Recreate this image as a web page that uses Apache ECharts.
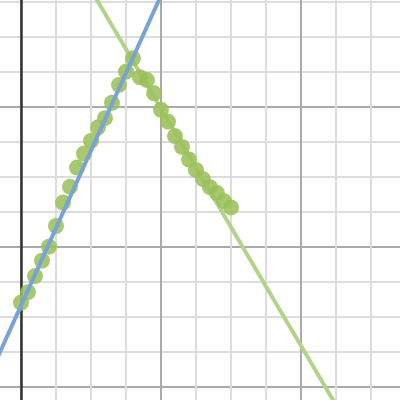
<!DOCTYPE html>
<html>
<head>
<meta charset="utf-8">
<script src="https://cdn.jsdelivr.net/npm/echarts@6/dist/echarts.min.js"></script>
<style>
html, body { margin: 0; padding: 0; background: #fff; }
#chart { width: 400px; height: 400px; }
</style>
</head>
<body>
<div id="chart"></div>
<script>
// sampled points
var dotX = [0, 0.2, 0.4, 0.6, 0.8, 1.0, 1.2, 1.4, 1.6, 1.8, 2.0, 2.2, 2.4, 2.6, 2.8, 3.0,
            3.2, 3.4, 3.6, 3.8, 4.0, 4.2, 4.4, 4.6, 4.8, 5.0, 5.2, 5.4, 5.6, 5.8, 6.0];
var dotY = [6.41, 6.71, 7.17, 7.61, 8.01, 8.60, 9.27, 9.72, 10.27, 10.67, 11.03, 11.42, 11.68, 12.12, 12.63, 13.01,
            13.39, 12.85, 12.77, 12.39, 11.92, 11.58, 11.17, 10.86, 10.50, 10.20, 9.94, 9.71, 9.54, 9.31, 9.13];

// fitted lines (end points)
var blueX = [-1, 5];
var blueY = [4.11, 17.40];
var greenX = [1, 10];
var greenY = [17.04, 1.79];

function pairs(xs, ys) {
    return xs.map(function (x, i) { return [x, ys[i]]; });
}

var chart = echarts.init(document.getElementById('chart'));
chart.setOption({
    animation: false,
    // grid runs past the canvas so the view starts between grid lines
    grid: {left: -119, right: -41, top: -33, bottom: -127, outerBoundsMode: 'none', containLabel: false},
    xAxis: {
        type: 'value', min: -4, max: 12, interval: 4,
        axisLine: {show: false},
        axisTick: {show: false},
        axisLabel: {show: false},
        splitLine: {lineStyle: {color: '#aaaaaa', width: 2}},
        minorTick: {show: false, splitNumber: 4},
        minorSplitLine: {show: true, lineStyle: {color: '#dddddd', width: 2}}
    },
    yAxis: {
        type: 'value', min: 0, max: 16, interval: 4,
        axisLine: {show: true, onZero: true, lineStyle: {color: '#333333', width: 2.5}},
        axisTick: {show: false},
        axisLabel: {show: false},
        splitLine: {lineStyle: {color: '#aaaaaa', width: 2}},
        minorTick: {show: false, splitNumber: 4},
        minorSplitLine: {show: true, lineStyle: {color: '#dddddd', width: 2}}
    },
    series: [
        {
            type: 'line', z: 2, showSymbol: false,
            data: pairs(greenX, greenY),
            lineStyle: {color: '#b3d38b', width: 4}
        },
        {
            type: 'scatter', z: 3, symbolSize: 16,
            data: pairs(dotX, dotY),
            itemStyle: {color: '#9bc05a', opacity: 0.88}
        },
        {
            type: 'line', z: 4, showSymbol: false,
            data: pairs(blueX, blueY),
            lineStyle: {color: '#7aa3d5', width: 4}
        }
    ]
});
</script>
</body>
</html>
